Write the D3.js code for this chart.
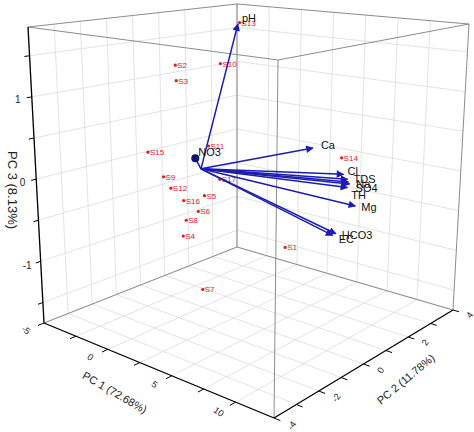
<!DOCTYPE html>
<html>
<head>
<meta charset="utf-8">
<script src="https://cdn.jsdelivr.net/npm/d3@7"></script>
<style>
  body { margin: 0; background: #fff; }
  text { font-family: "Liberation Sans", Arial, sans-serif; }
</style>
</head>
<body>
<div id="chart"></div>
<script>
// sample scores (PC1, PC2, PC3)
const samples = ['S1','S2','S3','S4','S5','S6','S7','S8','S9','S10','S11','S12','S13','S14','S15','S16','S17'];
const pc1 = [3.8, 0.05, 0.1, -0.5, 0.25, -0.25, 1.95, -0.25, -1.0, 0.6, 0.6, -0.45, 1.1, 7.2, -1.2, -0.42, 0.5];
const pc2 = [1.5, -1, -1, -0.5, 0, 0, -1, -0.5, -1, 0.5, 0, -1, 1, 2, -1.5, -0.5, 0.5];
const pc3 = [-1.0, 1.37, 1.18, -0.82, -0.33, -0.55, -1.3, -0.61, -0.05, 1.32, 0.31, -0.17, 1.83, 0.2, 0.29, -0.37, -0.16];

// variable loadings (scaled)
const vars = ['pH','NO3','Ca','Cl','TDS','Na','SO4','TH','Mg','HCO3','EC'];
const ld1 = [1.93, 1.47, 6.8, 8.3, 8.63, 8.7, 8.8, 8.63, 9.3, 6.9, 6.65];
const ld2 = [0.5, -1, 1, 1.5, 1.5, 1.5, 1.5, 1.5, 1.5, 2, 2];
const ld3 = [1.85, 0.27, 0.4, 0.08, 0.03, 0, -0.02, -0.07, -0.27, -0.76, -0.79];

const pc1Ticks = [-5, 0, 5, 10];
const pc2Ticks = [-4, -2, 0, 2, 4];
const pc3Ticks = [-1, 0, 1];
const pc1Minor = [-2.5, 2.5, 7.5];
const pc2Minor = [-3, -1, 1, 3];
const pc3Minor = [-1.5, -0.5, 0.5, 1.5];

const width = 474, height = 432;
const svg = d3.select('#chart').append('svg').attr('width', width).attr('height', height);

const X0 = -5, X1 = 13, Y0 = -4, Y1 = 4, Z0 = -1.75, Z1 = 1.85;
const u = d3.scaleLinear().domain([X0, X1]).range([0, 1]);
const v = d3.scaleLinear().domain([Y0, Y1]).range([0, 1]);
const w = d3.scaleLinear().domain([Z0, Z1]).range([0, 1]);

// screen corners of the box [x][y][z]
const C = {
  '000': [44, 323], '100': [274, 418], '110': [453, 310], '010': [237, 247],
  '001': [28, 27], '101': [278, 60], '111': [469, 24], '011': [237, 4]
};
function proj(x, y, z) {
  const a = u(x), b = v(y), c = w(z);
  let px = 0, py = 0;
  for (const k in C) {
    const f = (k[0] === '1' ? a : 1 - a) * (k[1] === '1' ? b : 1 - b) * (k[2] === '1' ? c : 1 - c);
    px += f * C[k][0]; py += f * C[k][1];
  }
  return [px, py];
}
function seg(g, p, q, stroke, sw) {
  const a = proj(...p), b = proj(...q);
  g.append('line').attr('x1', a[0]).attr('y1', a[1]).attr('x2', b[0]).attr('y2', b[1])
    .attr('stroke', stroke).attr('stroke-width', sw);
}

const grid = svg.append('g');
const gc = '#dcdcdc';
// floor
pc1Ticks.concat(pc1Minor).forEach(t => seg(grid, [t, Y0, Z0], [t, Y1, Z0], gc, 0.8));
pc2Ticks.concat(pc2Minor).forEach(t => seg(grid, [X0, t, Z0], [X1, t, Z0], gc, 0.8));
// left wall x = lo
pc2Ticks.concat(pc2Minor).forEach(t => seg(grid, [X0, t, Z0], [X0, t, Z1], gc, 0.8));
pc3Ticks.concat(pc3Minor).forEach(t => seg(grid, [X0, Y0, t], [X0, Y1, t], gc, 0.8));
// right wall y = hi
pc1Ticks.concat(pc1Minor).forEach(t => seg(grid, [t, Y1, Z0], [t, Y1, Z1], gc, 0.8));
pc3Ticks.concat(pc3Minor).forEach(t => seg(grid, [X0, Y1, t], [X1, Y1, t], gc, 0.8));

// box edges
const ec = '#8c8c8c';
[[[X0,Y1,Z0],[X0,Y1,Z1]], [[X1,Y0,Z0],[X1,Y0,Z1]], [[X1,Y1,Z0],[X1,Y1,Z1]],
 [[X0,Y1,Z0],[X1,Y1,Z0]], [[X0,Y0,Z0],[X0,Y1,Z0]],
 [[X0,Y0,Z1],[X1,Y0,Z1]], [[X1,Y0,Z1],[X1,Y1,Z1]], [[X1,Y1,Z1],[X0,Y1,Z1]], [[X0,Y1,Z1],[X0,Y0,Z1]]]
  .forEach(e => seg(grid, e[0], e[1], ec, 1));

// axes
const ax = svg.append('g');
seg(ax, [X0, Y0, Z0], [X1, Y0, Z0], '#000', 1.3);
seg(ax, [X1, Y0, Z0], [X1, Y1, Z0], '#000', 1.3);
seg(ax, [X0, Y0, Z0], [X0, Y0, Z1], '#000', 1.3);

function label(g, p, txt, rot, size) {
  const s = proj(...p);
  g.append('text').attr('transform', `translate(${s[0]},${s[1]}) rotate(${rot})`)
    .attr('text-anchor', 'middle').attr('dominant-baseline', 'central')
    .attr('font-size', size).attr('fill', '#222').text(txt);
}
pc1Ticks.concat(pc1Minor).forEach(t => seg(ax, [t, Y0, Z0], [t, Y0 - 0.25, Z0], '#000', 1));
pc1Ticks.forEach(t => label(ax, [t, Y0 - 0.75, Z0], t, 35, 9));
pc2Ticks.concat(pc2Minor).forEach(t => seg(ax, [X1, t, Z0], [X1 + 0.5, t, Z0], '#000', 1));
pc2Ticks.forEach(t => label(ax, [X1 + 1.4, t, Z0], t, -55, 9));
pc3Ticks.concat(pc3Minor).forEach(t => seg(ax, [X0, Y0, t], [X0, Y0 - 0.2, t], '#000', 1));
pc3Ticks.forEach(t => label(ax, [X0, Y0 - 0.55, t], t, 0, 10));

label(ax, [4, Y0 - 1.9, Z0], 'PC 1 (72.68%)', 30, 11);
label(ax, [X1 + 3.4, 0, Z0], 'PC 2 (11.78%)', -40, 11);
ax.append('text').attr('transform', 'translate(12,190) rotate(90)')
  .attr('text-anchor', 'middle').attr('dominant-baseline', 'central')
  .attr('font-size', 13).attr('fill', '#222').text('PC 3 (8.13%)');

// samples
const sg = svg.append('g');
samples.forEach((s, i) => {
  const p = proj(pc1[i], pc2[i], pc3[i]);
  sg.append('circle').attr('cx', p[0]).attr('cy', p[1]).attr('r', 1.6).attr('fill', '#e41a1c');
  sg.append('text').attr('x', p[0] + 2).attr('y', p[1] + 3).attr('font-size', 8).attr('fill', '#e41a1c').text(s);
});

// loading vectors
const blue = '#1c1cb4';
svg.append('defs').append('marker').attr('id', 'arr').attr('viewBox', '0 0 10 10')
  .attr('refX', 9).attr('refY', 5).attr('markerWidth', 6).attr('markerHeight', 5)
  .attr('markerUnits', 'strokeWidth').attr('orient', 'auto')
  .append('path').attr('d', 'M0,0L10,5L0,10z').attr('fill', blue);
const vg = svg.append('g');
const o = proj(0, 0, 0);
const labOff = { pH: [4, -6], NO3: [3, -6], Ca: [8, -3], Cl: [4, -3], TDS: [6, 0], Na: [8, 2], SO4: [6, 4], TH: [4, 7], Mg: [6, 1], HCO3: [6, 1], EC: [6, 4] };
vars.forEach((name, i) => {
  const p = proj(ld1[i], ld2[i], ld3[i]);
  if (name === 'NO3') {
    vg.append('line').attr('x1', o[0]).attr('y1', o[1]).attr('x2', p[0]).attr('y2', p[1])
      .attr('stroke', blue).attr('stroke-width', 1.5);
    vg.append('circle').attr('cx', p[0]).attr('cy', p[1]).attr('r', 4).attr('fill', '#101070');
  } else {
    vg.append('line').attr('x1', o[0]).attr('y1', o[1]).attr('x2', p[0]).attr('y2', p[1])
      .attr('stroke', blue).attr('stroke-width', 1.5).attr('marker-end', 'url(#arr)');
  }
  const d = labOff[name];
  vg.append('text').attr('x', p[0] + d[0]).attr('y', p[1] + d[1]).attr('font-size', 11)
    .attr('fill', '#111').attr('dominant-baseline', 'central').text(name);
});
</script>
</body>
</html>
